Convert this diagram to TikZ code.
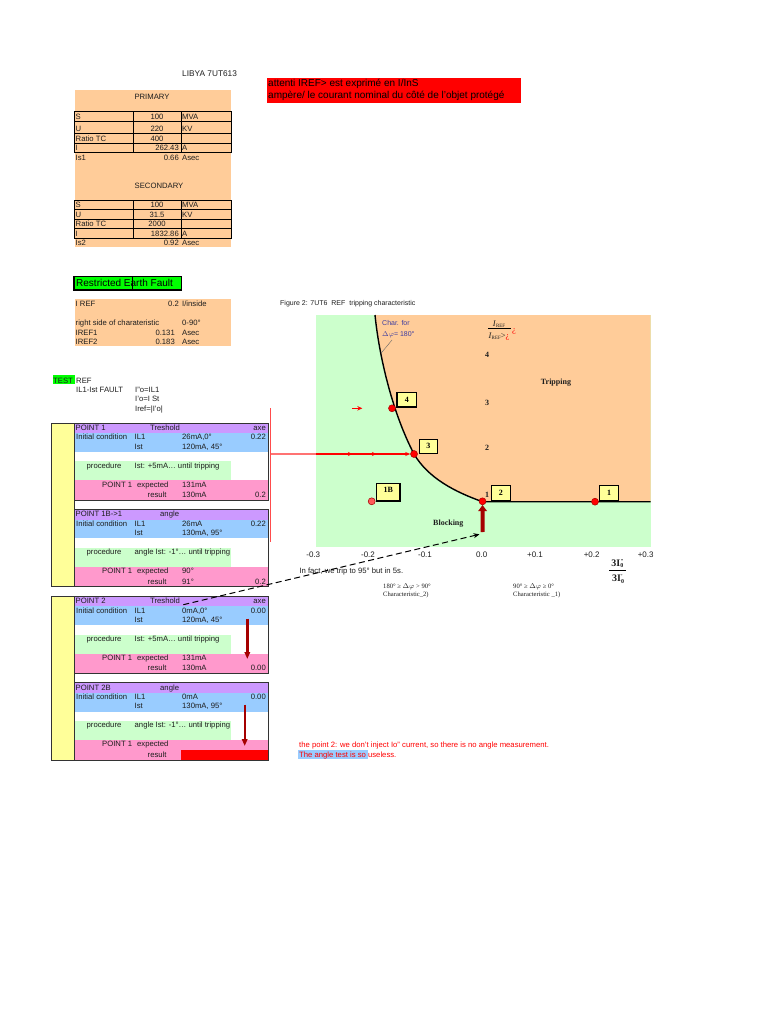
\documentclass[tikz,border=0pt]{standalone}
\usepackage{fontspec}
\setmainfont{Liberation Sans}
\newfontfamily\serifff{Liberation Serif}
\usetikzlibrary{arrows.meta}
\definecolor{peach}{RGB}{255,204,153}
\definecolor{lgreen}{RGB}{204,255,204}
\definecolor{lblue}{RGB}{153,204,255}
\definecolor{lpurple}{RGB}{204,153,255}
\definecolor{lpink}{RGB}{255,153,204}
\definecolor{lyellow}{RGB}{255,255,153}
\definecolor{dred}{RGB}{165,0,0}
\definecolor{navy2}{RGB}{60,60,160}
\definecolor{txtgray}{RGB}{30,30,30}
\newcounter{tn}
\newcommand{\Tl}[4][]{\stepcounter{tn}\node[tl,#1] (t\arabic{tn}) at (#2,#3) {#4};}
\newcommand{\Tr}[4][]{\stepcounter{tn}\node[tr,#1] (t\arabic{tn}) at (#2,#3) {#4};}
\newcommand{\Tc}[4][]{\stepcounter{tn}\node[tc,#1] (t\arabic{tn}) at (#2,#3) {#4};}
\newcommand{\Bx}[5]{\fill[#5] (#1,#2) rectangle (#3,#4);}
\tikzset{
 base8/.style={inner sep=0,yshift=-1.2pt,text=txtgray,font=\fontsize{7.7}{10}\selectfont},
 tl/.style={base8,anchor=mid west},
 tr/.style={base8,anchor=mid east},
 tc/.style={base8,anchor=mid},
 ser/.style={font=\serifff\fontsize{6.6}{8}\selectfont},
 big/.style={font=\fontsize{10}{12}\selectfont,text=black},
 axis/.style={font=\fontsize{8}{9}\selectfont},
 num/.style={font=\serifff\bfseries\fontsize{8}{9}\selectfont},
 grid/.style={draw=black,line width=1pt},
 panel/.style={draw=black!80,line width=1pt},
 tag/.style={draw=black,line width=1.1pt,fill=lyellow,inner sep=0,font=\serifff\bfseries\fontsize{8}{9}\selectfont},
 pt/.style={circle,draw=dred,fill=red,line width=.5pt,minimum size=7pt,inner sep=0},
 bigarrow/.style={draw=dred,line width=4pt,-{Triangle[width=8.5pt,length=6pt]}},
 downarrow/.style={draw=dred,line width=2.4pt,-{Triangle[width=5.5pt,length=7pt]}},
 redline/.style={draw=red!70,line width=1.4pt},
 dashline/.style={draw=black,line width=1pt,dash pattern=on 6pt off 3.5pt,-{Stealth[length=6pt,width=5pt]}}
}
\newcommand{\TableGrid}[6]{%
 \draw[grid] (74,#1) rectangle (231,#5);
 \draw[grid] (74,#2)--(231,#2) (74,#3)--(231,#3) (74,#4)--(231,#4);
 \draw[grid] (133.5,#1)--(133.5,#5) (181.5,#1)--(181.5,#5);}
\begin{document}
\begin{tikzpicture}[x=1pt,y=-1pt]
\useasboundingbox (0,0) rectangle (768,1024);
\fill[white] (0,0) rectangle (768,1024);

% top title and notice
\Tl[font=\fontsize{8.3}{10}\selectfont]{182}{72.5}{LIBYA 7UT613}
\Bx{267.3}{78}{520.7}{102.7}{red}
\Tl[big]{268}{83}{attenti IREF> est exprimé en I/InS}
\Tl[big]{268}{95}{ampère/ le courant nominal du côté de l'objet protégé}

% transformer tables
\Bx{74.7}{90}{231}{247}{peach}
\Tc{152}{96}{PRIMARY}
\TableGrid{111.7}{121.7}{133.7}{143.3}{152.7}{}
\Tl{75.5}{115.5}{S}\Tc{157}{115.5}{100}\Tl{182}{115.5}{MVA}
\Tl{75.5}{127.5}{U}\Tc{157}{127.5}{220}\Tl{182}{127.5}{KV}
\Tl{75.5}{137.5}{Ratio TC}\Tc{157}{137.5}{400}
\Tl{75.5}{147}{I}\Tr{179}{147}{262.43}\Tl{182}{147}{A}
\Tl{75.5}{156.5}{Is1}\Tr{179}{156.5}{0.66}\Tl{182}{156.5}{Asec}
\Tc{159}{184.5}{SECONDARY}
\TableGrid{200.3}{210}{219.3}{229}{238.3}{}
\Tl{75.5}{204}{S}\Tc{157}{204}{100}\Tl{182}{204}{MVA}
\Tl{75.5}{213.5}{U}\Tc{157}{213.5}{31.5}\Tl{182}{213.5}{KV}
\Tl{75.5}{223}{Ratio TC}\Tc{157}{223}{2000}
\Tl{75.5}{232.5}{I}\Tr{179}{232.5}{1832.86}\Tl{182}{232.5}{A}
\Tl{75.5}{242}{Is2}\Tr{179}{242}{0.92}\Tl{182}{242}{Asec}

% restricted earth fault
\fill[green] (74,276.3) rectangle (181.3,290);
\draw[grid,line width=1.3pt] (74,276.3) rectangle (181.3,290);
\draw[grid,line width=1.3pt] (132.7,276.3)--(132.7,290);
\Tl[big]{76}{282.5}{Restricted Earth Fault}
\Bx{74.7}{299}{231}{346.3}{peach}
\Tl{75.5}{303}{I REF}\Tr{179}{303}{0.2}\Tl{182}{303}{I/inside}
\Tl{75.5}{322}{right side of charateristic}\Tl{182}{322}{0-90°}
\Tl{75.5}{331.5}{IREF1}\Tr{175}{331.5}{0.131}\Tl{182}{331.5}{Asec}
\Tl{75.5}{341}{IREF2}\Tr{175}{341}{0.183}\Tl{182}{341}{Asec}

% test
\fill[green] (52.7,375.3) rectangle (74.7,384);
\Tl{53}{379.5}{TEST}\Tl{76}{379.5}{REF}
\Tl{76}{388.5}{IL1-Ist FAULT}\Tl{135}{388.5}{I"o=IL1}
\Tl{135}{398}{I'o=I St}
\Tl{135}{407.5}{Iref=|I'o|}

% panels 1 and 1B
\Bx{51.7}{423}{74.3}{586.7}{lyellow}
\Bx{74.3}{423}{268.3}{432.7}{lpurple}
\Bx{74.3}{432.7}{268.3}{451.7}{lblue}
\Bx{74.3}{461.3}{231}{480.3}{lgreen}
\Bx{74.3}{480.3}{268.3}{500.3}{lpink}
\Bx{74.3}{509.3}{268.3}{520}{lpurple}
\Bx{74.3}{520}{268.3}{538.3}{lblue}
\Bx{74.3}{548.3}{231}{567}{lgreen}
\Bx{74.3}{567}{268.3}{586.7}{lpink}
\draw[panel] (51.7,423) rectangle (74.3,586.7);
\draw[panel] (74.3,423) rectangle (268.3,500.3);
\draw[panel] (74.3,509.3) rectangle (268.3,586.7);
\Tl{75.5}{426.5}{POINT 1}\Tl{150}{426.5}{Treshold}\Tr{266}{426.5}{axe}
\Tl{76}{436}{Initial condition}\Tl{134.5}{436}{IL1}\Tl{182}{436}{26mA,0°}\Tr{266}{436}{0.22}
\Tl{134.5}{445.5}{Ist}\Tl{182}{445.5}{120mA, 45°}
\Tl{86.5}{464.5}{procedure}\Tl{134.5}{464.5}{Ist: +5mA… until tripping}
\Tl{102}{483.5}{POINT 1}\Tl{137}{483.5}{expected}\Tl{182}{483.5}{131mA}
\Tl{147.5}{494}{result}\Tl{182}{494}{130mA}\Tr{266}{494}{0.2}
\Tl{75.5}{512.5}{POINT 1B->1}\Tl{160}{512.5}{angle}
\Tl{76}{522.7}{Initial condition}\Tl{134.5}{522.7}{IL1}\Tl{182}{522.7}{26mA}\Tr{266}{522.7}{0.22}
\Tl{134.5}{532}{Ist}\Tl{182}{532}{130mA, 95°}
\Tl{86.5}{551}{procedure}\Tl{134.5}{551}{angle Ist: -1°… until tripping}
\Tl{102}{570}{POINT 1}\Tl{137}{570}{expected}\Tl{182}{570}{90°}
\Tl{147.5}{580.7}{result}\Tl{182}{580.7}{91°}\Tr{266}{580.7}{0.2}

% panels 2 and 2B
\Bx{51.7}{596}{74.3}{760}{lyellow}
\Bx{74.3}{596}{268.3}{606}{lpurple}
\Bx{74.3}{606}{268.3}{625}{lblue}
\Bx{74.3}{635}{231}{654}{lgreen}
\Bx{74.3}{654}{268.3}{673.3}{lpink}
\Bx{74.3}{682.7}{268.3}{692.7}{lpurple}
\Bx{74.3}{692.7}{268.3}{711.7}{lblue}
\Bx{74.3}{721.3}{231}{740}{lgreen}
\Bx{74.3}{740}{268.3}{760}{lpink}
\Bx{181}{750}{268}{760}{red}
\draw[panel] (51.7,596) rectangle (74.3,760);
\draw[panel] (74.3,596) rectangle (268.3,673.3);
\draw[panel] (74.3,682.7) rectangle (268.3,760);
\Tl{75.5}{600}{POINT 2}\Tl{150}{600}{Treshold}\Tr{266}{600}{axe}
\Tl{76}{609.5}{Initial condition}\Tl{134.5}{609.5}{IL1}\Tl{182}{609.5}{0mA,0°}\Tr{266}{609.5}{0.00}
\Tl{134.5}{619}{Ist}\Tl{182}{619}{120mA, 45°}
\Tl{86.5}{637.7}{procedure}\Tl{134.5}{637.7}{Ist: +5mA… until tripping}
\Tl{102}{657}{POINT 1}\Tl{137}{657}{expected}\Tl{182}{657}{131mA}
\Tl{147.5}{667}{result}\Tl{182}{667}{130mA}\Tr{266}{667}{0.00}
\Tl{75.5}{686.3}{POINT 2B}\Tl{160}{686.3}{angle}
\Tl{76}{696}{Initial condition}\Tl{134.5}{696}{IL1}\Tl{182}{696}{0mA}\Tr{266}{696}{0.00}
\Tl{134.5}{705}{Ist}\Tl{182}{705}{130mA, 95°}
\Tl{86.5}{724}{procedure}\Tl{134.5}{724}{angle Ist: -1°… until tripping}
\Tl{102}{743}{POINT 1}\Tl{137}{743}{expected}
\Tl{147.5}{754}{result}

% chart
\Tl[font=\fontsize{7}{8}\selectfont]{280}{302}{Figure 2: 7UT6\ \ REF\ \ tripping characteristic}
\fill[lgreen] (316,315) rectangle (650.7,547.3);
\fill[peach] (375,315) .. controls (379,355) and (392,412) .. (414,454)
   .. controls (428,478) and (455,492) .. (482.5,501.7) -- (650.7,501.7) -- (650.7,315) -- cycle;
\draw[black,line width=1.4pt] (375,315) .. controls (379,355) and (392,412) .. (414,454)
   .. controls (428,478) and (455,492) .. (482.5,501.7) -- (650.7,501.7);
\draw[black!60,line width=.4pt] (392,340)--(381,353.3);
\Tl[text=navy2,font=\fontsize{7}{8}\selectfont]{382}{322}{Char. for}
\Tl[text=navy2,font=\fontsize{7}{8}\selectfont]{382}{333}{$\Delta\varphi$= 180°}

% chart scale labels
\Tc[num]{487}{354}{4}
\Tc[num]{487}{401.5}{3}
\Tc[num]{487}{447}{2}
\Tc[num]{487}{494}{1}
\Tc[num]{556}{381}{Tripping}
\Tc[num]{448.3}{521.7}{Blocking}
\Tc[font=\serifff\fontsize{8.5}{9}\selectfont]{499}{322.5}{\textit{I}\raisebox{-1pt}{\fontsize{5}{5}\selectfont REF}}
\draw[black,line width=.6pt] (488,328.3)--(511,328.3);
\Tc[font=\serifff\fontsize{8.5}{9}\selectfont]{499}{335}{\textit{I}\raisebox{-1pt}{\fontsize{5}{5}\selectfont REF}>\textcolor{red}{¿}}
\Tc[font=\serifff\fontsize{8.5}{9}\selectfont,text=red]{514}{329}{¿}

\Tc[axis]{313.3}{554}{-0.3}
\Tc[axis]{368}{554}{-0.2}
\Tc[axis]{425}{554}{-0.1}
\Tc[axis]{481.7}{554}{0.0}
\Tc[axis]{535}{554}{+0.1}
\Tc[axis]{591.7}{554}{+0.2}
\Tc[axis]{645.7}{554}{+0.3}
\Tl{299.3}{570}{In fact, we trip to 95° but in 5s.}
\Tc[font=\serifff\bfseries\fontsize{10}{11}\selectfont]{617.5}{562.5}{3I\raisebox{-1.5pt}{\fontsize{6}{6}\selectfont 0}\raisebox{3pt}{\fontsize{6}{6}\selectfont\hspace{-3pt}"}}
\draw[black,line width=.6pt] (609.3,570.7)--(625.7,570.7);
\Tc[font=\serifff\bfseries\fontsize{10}{11}\selectfont]{617.5}{578}{3I\raisebox{-1.5pt}{\fontsize{6}{6}\selectfont 0}\raisebox{3pt}{\fontsize{6}{6}\selectfont\hspace{-3pt}'}}
\Tl[ser]{383}{584.5}{180° ≥ $\Delta\varphi$ > 90°}
\Tl[ser]{383}{593}{Characteristic\_2)}
\Tl[ser]{513}{584.5}{90° ≥ $\Delta\varphi$ ≥ 0°}
\Tl[ser]{513}{593}{Characteristic \_1)}

% chart connectors and points
\coordinate (vtop) at (270.7,408);
\coordinate (vbot) at (270.7,541.7);
\coordinate (hstart) at (270.7,454);
\coordinate (hedge) at (316,454);
\coordinate (arrA) at (352.3,408.3);
\coordinate (arrB) at (362.3,408.3);
\coordinate (dashstart) at (183.3,604.7);
\coordinate (dashend) at (479.5,534.3);
\coordinate (mainbase) at (482.7,532);
\coordinate (s1a) at (247.3,618.7);
\coordinate (s1b) at (247.3,659);
\coordinate (s2a) at (244.7,704.7);
\coordinate (s2b) at (244.7,746);
\node[pt] (p4) at (392,408.3) {};
\node[pt] (p3) at (414,454) {};
\node[pt,fill=red!65] (p1b) at (371.7,501.3) {};
\node[pt] (p2) at (482.5,501.3) {};
\node[pt] (p1) at (595,501.7) {};
\node[tag,minimum width=19.7pt,minimum height=14.7pt] (l4) at (406.8,399.6) {4};
\node[tag,minimum width=18pt,minimum height=14pt] (l3) at (428.3,446.3) {3};
\node[tag,minimum width=23.3pt,minimum height=17.3pt,text depth=4pt] (l1b) at (388.3,492.3) {1B};
\node[tag,minimum width=19pt,minimum height=15pt] (l2) at (500.8,492.8) {2};
\node[tag,minimum width=19pt,minimum height=15pt] (l1) at (609.2,492.8) {1};
\draw[redline] (vtop)--(vbot);
\draw[red,line width=1.1pt,-{Stealth[length=5pt,width=4pt]}] (hedge)--(p3);
\draw[red,line width=1.1pt,-{Stealth[length=4pt,width=4pt]}] (hedge)--(352,454);
\draw[red,line width=1.1pt,-{Stealth[length=4pt,width=4pt]}] (hedge)--(376,454);
\draw[red!55,line width=1.1pt] (hstart)--(hedge);
\draw[red,line width=.9pt,-{Stealth[length=5pt,width=4.5pt]}] (arrA)--(arrB);
\draw[bigarrow] (mainbase)--(p2);
\draw[dashline] (dashstart)--(dashend);
\draw[downarrow] (s1a)--(s1b);
\draw[downarrow] (s2a)--(s2b);

% bottom notes
\fill[lblue] (298,750) rectangle (368,759.3);
\Tl[text=red]{299}{743.5}{the point 2: we don't inject Io'' current, so there is no angle measurement.}
\Tl[text=red]{299}{754}{The angle test is so useless.}
\end{tikzpicture}
\end{document}
